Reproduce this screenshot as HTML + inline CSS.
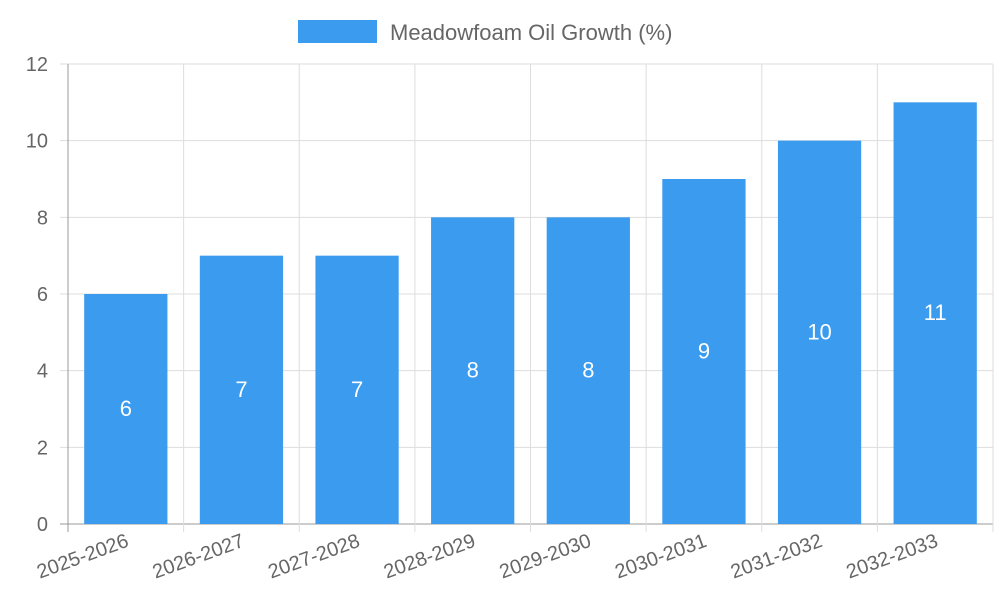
<!DOCTYPE html>
<html><head><meta charset="utf-8"><style>
body{margin:0;background:#fff}
svg text{font-family:"Liberation Sans",sans-serif}
</style></head><body>
<svg id="chart" width="1000" height="600" xmlns="http://www.w3.org/2000/svg">
<g>
<rect x="298" y="20" width="79" height="23" fill="#3a9bef"/>
<text x="390" y="40" font-size="22" fill="#666">Meadowfoam Oil Growth (%)</text>
</g>
<g id="grid"></g><g id="bars"></g><g id="labels"></g>
</svg>
<script>
const categories=["2025-2026","2026-2027","2027-2028","2028-2029","2029-2030","2030-2031","2031-2032","2032-2033"];
const values=[6,7,7,8,8,9,10,11];
const yTicks=[0,2,4,6,8,10,12];
const L=68,R=993,T=64,B=524,yMax=12;
const NS="http://www.w3.org/2000/svg";
const y=v=>B-(v/yMax)*(B-T);
const step=(R-L)/categories.length;
const x=i=>L+step*i;
function mk(tag,attrs,parent,text){const e=document.createElementNS(NS,tag);for(const k in attrs)e.setAttribute(k,attrs[k]);if(text!==undefined)e.textContent=text;parent.appendChild(e);return e;}
const grid=document.getElementById('grid'),bars=document.getElementById('bars'),labels=document.getElementById('labels');
yTicks.forEach(t=>{
 const ln=mk('line',{x1:60,x2:R,y1:y(t),y2:y(t),stroke:t===0?'#999':'#ddd','stroke-width':1},grid);
 
 
 const tx=mk('text',{x:48,y:y(t)+7,'font-size':20,fill:'#666','text-anchor':'end'},labels,String(t));
 
 
});
for(let i=0;i<=categories.length;i++){
 const ln=mk('line',{x1:x(i),x2:x(i),y1:T,y2:B+8,stroke:i===0?'#999':'#ddd','stroke-width':1},grid);
 
 
}
const bw=step*0.72;
categories.forEach((c,i)=>{
 const cx=x(i)+step/2,v=values[i];
 const r=mk('rect',{x:cx-bw/2,y:y(v),width:bw,height:B-y(v),fill:'#3a9bef'},bars);
 
 
 const vt=mk('text',{x:cx,y:(y(v)+B)/2+7,'font-size':22,fill:'#fff','text-anchor':'middle'},labels,String(v));
 
 
 const xt=mk('text',{x:cx+4,y:B+22,'font-size':20,fill:'#666','text-anchor':'end',transform:`rotate(-20 ${cx+4} ${B+22})`},labels,c);
 
 
});
</script>
</body></html>
